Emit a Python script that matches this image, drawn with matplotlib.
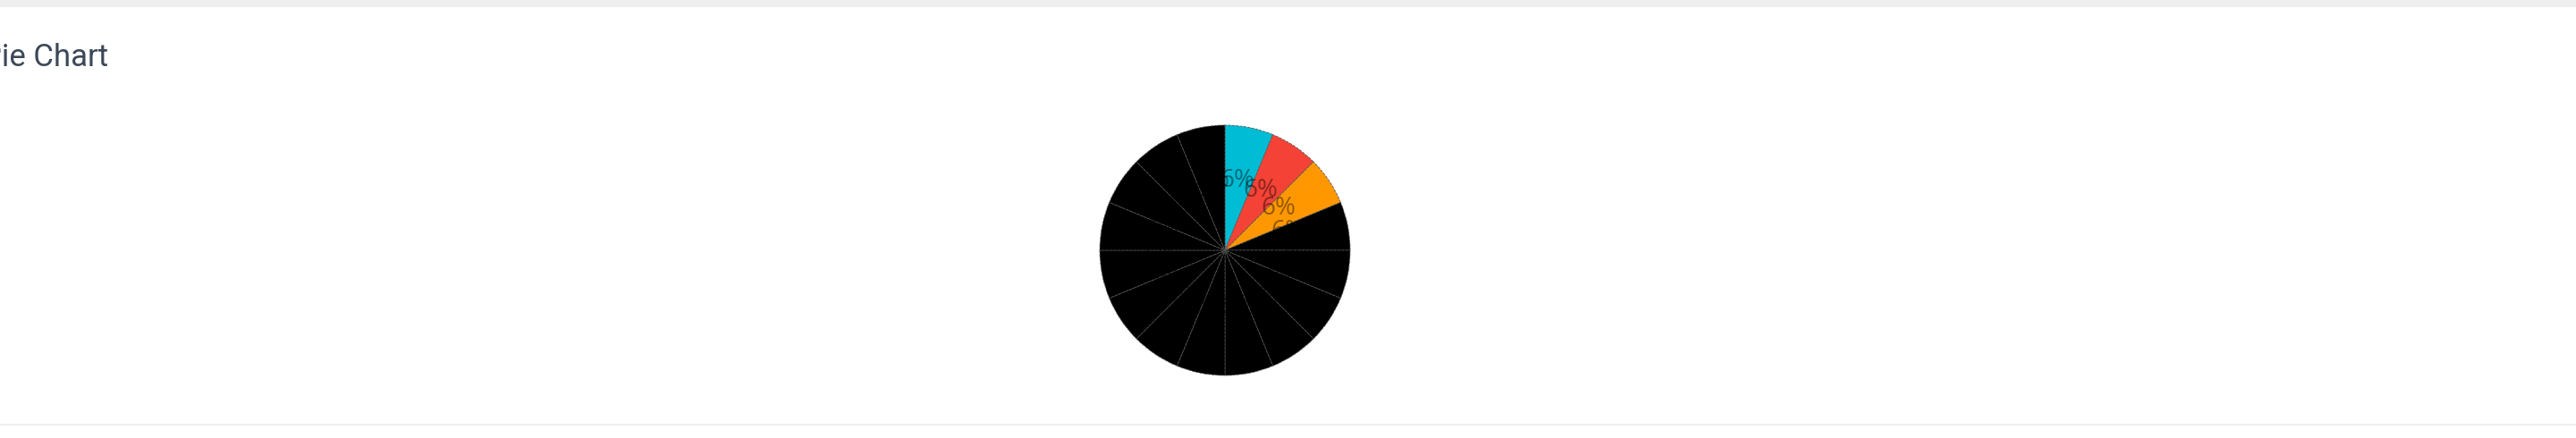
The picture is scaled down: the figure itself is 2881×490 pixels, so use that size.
import matplotlib.pyplot as plt
from matplotlib.patches import Rectangle

# 16 equal slices, only the first three have a colour of their own
labels = ['Slice %d' % (i + 1) for i in range(16)]
values = [1] * 16
colors = ['#00BCD4', '#F44336', '#FF9800'] + ['#000000'] * 13

W, H = 2881, 490
fig = plt.figure(figsize=(W / 100, H / 100), dpi=100)
fig.patch.set_facecolor('white')

# page chrome: grey strip on top, thin rule at the bottom
fig.patches.append(Rectangle((0, (H - 8) / H), 1, 8 / H, transform=fig.transFigure,
                             facecolor='#eeeeee', edgecolor='none', zorder=0))
fig.patches.append(Rectangle((0, (H - 476) / H), 1, 2 / H, transform=fig.transFigure,
                             facecolor='#eeeeee', edgecolor='none', zorder=0))

# title is partly cut off at the left edge, as in the page
fig.text(121 / W, (H - 74) / H, 'Pie Chart', ha='right', va='baseline',
         fontsize=25, family='Roboto', fontweight='normal', color='#3c4858')

ax = fig.add_axes([1230 / W, (H - 420) / H, 280 / W, 280 / H])
wedges, texts, autotexts = ax.pie(
    values, colors=colors, startangle=90, counterclock=False,
    autopct='%.0f%%', pctdistance=0.515,
    wedgeprops=dict(edgecolor='#555555', linewidth=0.6, linestyle='--'),
    textprops=dict(fontsize=20, family='Open Sans', fontweight='normal',
                   color='black', alpha=0.42))
for t in autotexts:
    t.set_va('baseline')
ax.set_xlim(-1, 1)
ax.set_ylim(-1, 1)
ax.set_aspect('equal')

fig.savefig('out.png', dpi=100)
